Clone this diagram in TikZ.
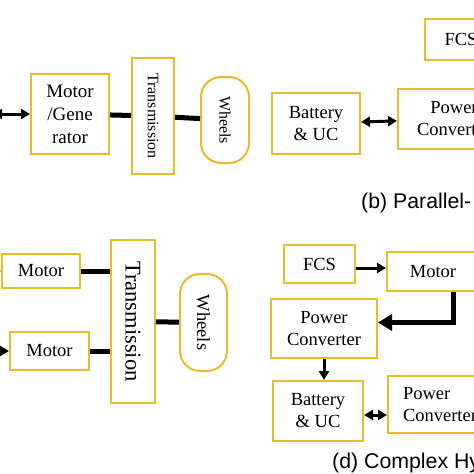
\documentclass[tikz,border=0pt]{standalone}
\usepackage{fontspec}
\setmainfont{Liberation Serif}
\newfontfamily\capfont{Liberation Sans}
\usepackage{graphicx}
\usetikzlibrary{arrows.meta}
\definecolor{boxyellow}{RGB}{234,188,44}

\begin{document}
\begin{tikzpicture}[
      x=1pt,y=-1pt,>={Triangle[length=9pt,width=10pt]},
      blk/.style={draw=boxyellow,line width=2pt,fill=white,inner sep=0pt,
        align=center,font=\fontsize{18.5}{22}\selectfont},
      wheel/.style={blk,rounded corners=20pt},
      shaft/.style={line width=5pt},
      arw/.style={->,line width=3pt},
      captxt/.style={anchor=base west,inner sep=0pt,
        font=\capfont\fontsize{21.3}{24}\selectfont}
    ]
    \useasboundingbox (0,0) rectangle (474,474);
    \clip (0,0) rectangle (474,474);

    % (b) parallel
    \node[blk,minimum width=78,minimum height=80,font=\fontsize{19}{23}\selectfont] (MG) at (70,114) {Motor\\/Gene\\rator};
    \node[blk,minimum width=42,minimum height=116,font=\fontsize{16}{19}\selectfont] (TR1) at (153,116) {\rotatebox{-90}{Transmission}};
    \node[wheel,minimum width=48,minimum height=86,font=\fontsize{16}{19}\selectfont] (WH1) at (225,120) {\rotatebox{-90}{Wheels}};
    \node[blk,minimum width=72,minimum height=41] (FCS1) at (461,39.5) {FCS};
    \node[blk,minimum width=88,minimum height=61] (BAT1) at (316,123.5) {Battery\\\& UC};
    \node[blk,minimum width=112,minimum height=60] (PC1) at (454,119) {Power\\Converter};
    \node[captxt] (CB) at (361,208) {(b) Parallel-};
    \coordinate (IN1) at (-7,114);

    \draw [arw,<->] (IN1) -- (MG.west);
    \draw [shaft] (MG) -- (TR1);
    \draw [shaft] (TR1) -- (WH1);
    \draw [arw,<->] (BAT1) -- (PC1);

    % (d) complex
    \node[blk,minimum width=78,minimum height=34] (M1) at (41,271) {Motor};
    \node[blk,minimum width=79,minimum height=38] (M2) at (49.5,351) {Motor};
    \node[blk,minimum width=44,minimum height=163,font=\fontsize{22.5}{26}\selectfont] (TR2) at (133,321.5) {\rotatebox{-90}{Transmission}};
    \node[wheel,minimum width=47,minimum height=97] (WH2) at (203.5,322.5) {\rotatebox{-90}{Wheels}};
    \node[blk,minimum width=71,minimum height=38] (FCS2) at (319.5,264) {FCS};
    \node[blk,minimum width=92,minimum height=39] (MOT) at (433,271.5) {Motor};
    \node[blk,minimum width=106,minimum height=59] (PC2) at (324,328.5) {Power\\Converter};
    \node[blk,minimum width=90,minimum height=60] (BAT2) at (318,411) {Battery\\\& UC};
    \node[blk,minimum width=104,minimum height=57,align=left] (PC3) at (440,404.5) {Power\\Converter};
    \node[captxt] (CD) at (332,468) {(d) Complex Hy};
    \coordinate (IN2) at (-20,271);
    \coordinate (IN3) at (-20,351);

    \draw [arw] (IN2) -- (M1.west);
    \draw [arw] (IN3) -- (M2.west);
    \draw [shaft] (M1.east) -- (M1.east -| TR2.west);
    \draw [shaft] (M2.east) -- (M2.east -| TR2.west);
    \draw [shaft] (TR2) -- (WH2);
    \draw [arw] ([yshift=-4pt]FCS2.east) -- ([yshift=-4pt]FCS2.east -| MOT.west);
    \draw [-{Triangle[length=14pt,width=16pt]},line width=5pt] ([xshift=20pt]MOT.south) |- ([yshift=6pt]PC2.east);
    \draw [arw] (PC2.south) -- (PC2.south |- BAT2.north);
    \draw [arw,<->] ([yshift=-4pt]BAT2.east) -- ([yshift=-4pt]BAT2.east -| PC3.west);
  \end{tikzpicture}
\end{document}
